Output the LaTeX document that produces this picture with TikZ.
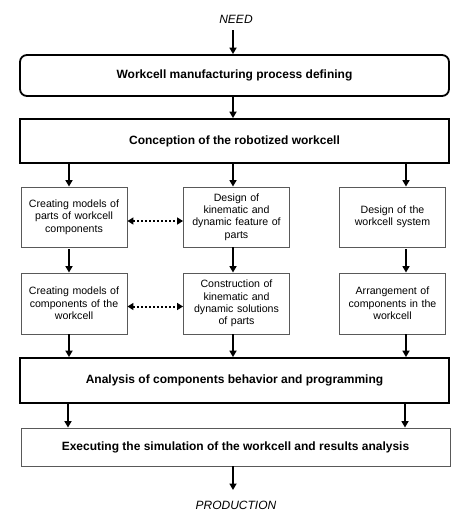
\documentclass[tikz,border=0pt]{standalone}
\usepackage{fontspec}
\setmainfont{Liberation Sans}
\usetikzlibrary{arrows.meta}
\begin{document}
\begin{tikzpicture}[x=1pt,y=-1pt,
  bigbox/.style={draw=black,line width=1.8pt,minimum width=429pt,inner sep=0pt,font=\fontsize{12}{14}\selectfont\bfseries},
  thinbox/.style={draw=black!65,line width=0.9pt,minimum width=429pt,inner sep=0pt,font=\fontsize{12}{14}\selectfont\bfseries},
  smallbox/.style={draw=black!65,line width=0.9pt,minimum width=106pt,minimum height=60pt,inner sep=1pt,text width=104pt,align=center,font=\fontsize{10.6}{12.4}\selectfont},
  flow/.style={line width=1.9pt,-{Triangle[length=6.5pt,width=7pt]}},
  link/.style={line width=2pt,dotted,{Triangle[length=6pt,width=7pt]}-{Triangle[length=6pt,width=7pt]}},
  term/.style={font=\fontsize{12}{14}\selectfont\itshape}]
\useasboundingbox (0,0) rectangle (474,520);
\node[term] (need) at (236,19) {NEED};
\node[bigbox,rounded corners=7pt,minimum height=41pt] (b1) at (234.5,75.5) {Workcell manufacturing process defining};
\node[bigbox,minimum height=44pt] (b2) at (234.5,141) {Conception of the robotized workcell};
\node[smallbox] (l1) at (74,217) {Creating models of\\parts of workcell\\components};
\node[smallbox] (m1) at (236.5,217) {Design of\\kinematic and\\dynamic feature of\\parts};
\node[smallbox] (r1) at (392.5,217) {Design of the\\workcell system};
\node[smallbox,minimum height=61pt] (l2) at (74,303.5) {Creating models of\\components of the\\workcell};
\node[smallbox,minimum height=61pt] (m2) at (236.5,303.5) {Construction of\\kinematic and\\dynamic solutions\\of parts};
\node[smallbox,minimum height=61pt] (r2) at (392.5,303.5) {Arrangement of\\components in the\\workcell};
\node[bigbox,minimum height=45pt] (b3) at (234.5,380.5) {Analysis of components behavior and programming};
\node[thinbox,minimum height=38pt] (b4) at (235.5,447) {Executing the simulation of the workcell and results analysis};
\node[term] (prod) at (236,505) {PRODUCTION};
\coordinate (needend) at (233,30);
\coordinate (prodend) at (233,490);
\draw[flow] (needend) -- (needend |- b1.north);
\draw[flow] (233,0 |- b1.south) -- (233,0 |- b2.north);
\foreach \x/\n in {69/l1,233/m1,406/r1}{\draw[flow] (\x,0 |- b2.south) -- (\x,0 |- \n.north);}
\draw[flow] ([yshift=-2pt]69,0 |- l1.south) -- (69,0 |- l2.north);
\draw[flow] (233,0 |- m1.south) -- (233,0 |- m2.north);
\draw[flow] ([yshift=-2pt]406,0 |- r1.south) -- (406,0 |- r2.north);
\foreach \x/\n in {69/l2,233/m2,406/r2}{\draw[flow] (\x,0 |- \n.south) -- (\x,0 |- b3.north);}
\draw[flow] (68,0 |- b3.south) -- (68,0 |- b4.north);
\draw[flow] (405,0 |- b3.south) -- (405,0 |- b4.north);
\draw[flow] (233,0 |- b4.south) -- (prodend);
\draw[link] ([yshift=-4pt]l1.east) -- ([yshift=-4pt]m1.west);
\draw[link] ([yshift=-3pt]l2.east) -- ([yshift=-3pt]m2.west);
\end{tikzpicture}
\end{document}
